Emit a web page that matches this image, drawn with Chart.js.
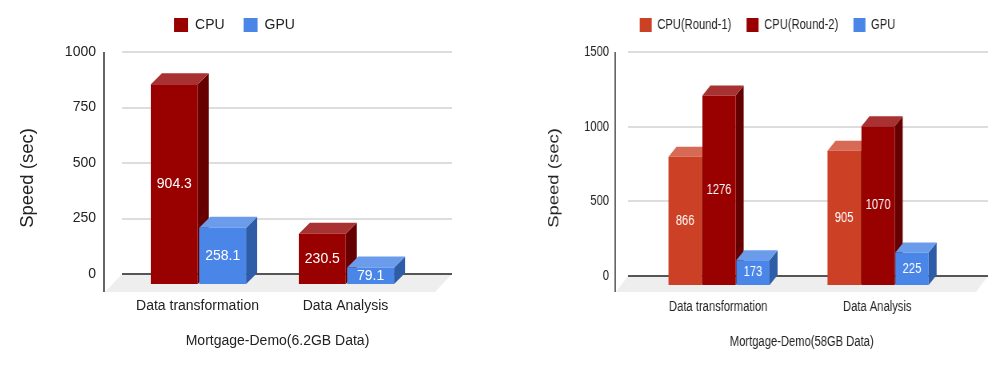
<!DOCTYPE html>
<html>
<head>
<meta charset="utf-8">
<style>
    body { margin: 0; background: #fff; width: 1005px; height: 367px; overflow: hidden; }
    canvas { position: absolute; top: 0; }
    /* the right picture in the source is squeezed sideways */
    #rightChart { transform: scaleX(0.8); transform-origin: 0 0; }
</style>
<script src="https://cdn.jsdelivr.net/npm/chart.js@4/dist/chart.umd.min.js"></script>
</head>
<body>
<canvas id="leftChart" width="469" height="367" style="left:0"></canvas>
<canvas id="rightChart" width="569" height="367" style="left:540px"></canvas>
<script>
const categories = ['Data transformation', 'Data Analysis'];

const leftCpu = [904.3, 230.5];
const leftGpu = [258.1, 79.1];
const leftTitle = 'Mortgage-Demo(6.2GB Data)';

const rightCpuRound1 = [866, 905];
const rightCpuRound2 = [1276, 1070];
const rightGpu = [173, 225];
const rightTitle = 'Mortgage-Demo(58GB Data)';

const yTitle = 'Speed (sec)';

const shades = {
    '#990000': { top: '#a83232', side: '#660000' },
    '#4a86e8': { top: '#6b9cec', side: '#2f5ca6' },
    '#cc4125': { top: '#d66a55', side: '#8f2d1a' }
};

// draws the fake 3d look, floor and axis line around the normal bar elements
const fake3d = {
    id: 'fake3d',
    afterLayout(chart, args, opts) {
        const y = chart.scales.y;
        chart.chartArea.left = opts.gridLeft;
        chart.chartArea.right = opts.gridRight;
        chart.scales.x.left += opts.titleShift;
        chart.scales.x.right += opts.titleShift;
        // pin the plot height, then move only the axis title box
        y.top = opts.plotTop;
        y.bottom = opts.plotBottom;
        y.configure();
        y.top += opts.yTitleShift;
        y.bottom += opts.yTitleShift;
        chart.legend.top = opts.legendTop;
        chart.legend.left += opts.legendShift;
        chart.legend.right += opts.legendShift;
    },
    beforeDraw(chart, args, opts) {
        const ctx = chart.ctx;
        const zero = chart.scales.y.getPixelForValue(0);
        const max = chart.scales.y.getPixelForValue(chart.scales.y.max);
        ctx.save();
        ctx.fillStyle = '#eeeeee';
        ctx.beginPath();
        ctx.moveTo(opts.gridLeft, zero);
        ctx.lineTo(opts.gridRight, zero);
        ctx.lineTo(opts.gridRight - opts.floorX, zero + opts.floorY);
        ctx.lineTo(opts.gridLeft - opts.floorX, zero + opts.floorY);
        ctx.fill();
        ctx.strokeStyle = '#333333';
        ctx.lineWidth = 1.5;
        ctx.beginPath();
        ctx.moveTo(opts.gridLeft - opts.floorX - 1, max);
        ctx.lineTo(opts.gridLeft - opts.floorX - 1, zero + opts.floorY);
        ctx.stroke();
        ctx.restore();
    },
    beforeDatasetsDraw(chart, args, opts) {
        const ctx = chart.ctx;
        const dx = opts.depthX;
        const dy = opts.depthY;
        categories.forEach((name, i) => {
            chart.data.datasets.forEach((ds, d) => {
                const bar = chart.getDatasetMeta(d).data[i];
                const left = bar.x - bar.width / 2 - dx;
                const right = bar.x + bar.width / 2 - dx;
                const top = bar.y + dy;
                const bottom = bar.base + dy;
                const colors = shades[ds.backgroundColor];
                ctx.save();
                ctx.fillStyle = colors.side;
                ctx.beginPath();
                ctx.moveTo(right, top);
                ctx.lineTo(right + dx, top - dy);
                ctx.lineTo(right + dx, bottom - dy);
                ctx.lineTo(right, bottom);
                ctx.fill();
                ctx.fillStyle = colors.top;
                ctx.beginPath();
                ctx.moveTo(left, top);
                ctx.lineTo(left + dx, top - dy);
                ctx.lineTo(right + dx, top - dy);
                ctx.lineTo(right, top);
                ctx.fill();
                ctx.translate(-dx, dy);
                bar.draw(ctx);
                ctx.restore();
                ctx.save();
                ctx.fillStyle = '#ffffff';
                ctx.font = opts.labelFont;
                ctx.textAlign = 'center';
                ctx.textBaseline = 'middle';
                ctx.fillText(ds.data[i], bar.x - dx, (top + bottom) / 2);
                ctx.restore();
            });
        });
        return false;
    }
};

function makeChart(id, datasets, yMax, yStep, xTitle, o) {
    const font = 'Liberation Sans';
    new Chart(document.getElementById(id), {
        type: 'bar',
        data: { labels: categories, datasets: datasets },
        plugins: [fake3d],
        options: {
            responsive: false,
            animation: false,
            datasets: { bar: { categoryPercentage: o.catPct, barPercentage: o.barPct, borderWidth: 0 } },
            layout: { padding: { top: 0, left: 0, right: o.padRight, bottom: 0 } },
            plugins: {
                tooltip: { enabled: false },
                legend: {
                    position: 'top',
                    labels: {
                        boxWidth: o.boxWidth,
                        boxHeight: 14,
                        padding: 19,
                        color: '#222222',
                        font: { family: font, size: 14 }
                    }
                },
                fake3d: {
                    gridLeft: o.gridLeft,
                    gridRight: o.gridRight,
                    plotTop: 52,
                    plotBottom: o.plotBottom,
                    titleShift: o.titleShift,
                    yTitleShift: o.plotBottom === 274 ? 15 : 14,
                    legendTop: -1,
                    legendShift: o.legendShift,
                    floorX: o.floorX,
                    floorY: o.floorY,
                    depthX: o.depthX,
                    depthY: o.depthY,
                    labelFont: '14px "' + font + '"'
                }
            },
            scales: {
                x: {
                    offset: true,
                    grid: { display: false },
                    border: { display: false },
                    afterFit(scale) { scale.height = 367 - o.plotBottom; },
                    ticks: {
                        padding: o.xTickPad,
                        labelOffset: o.labelOffset,
                        maxRotation: 0,
                        color: '#222222',
                        font: { family: font, size: 14 }
                    },
                    title: {
                        display: true,
                        text: xTitle,
                        color: '#222222',
                        font: { family: font, size: 14 },
                        padding: { top: 0, bottom: o.titlePad }
                    }
                },
                y: {
                    min: 0,
                    max: yMax,
                    afterFit(scale) { scale.width = o.areaLeft; },
                    grid: {
                        drawTicks: false,
                        lineWidth: 2,
                        color: (c) => c.tick.value === 0 ? '#555555' : '#dddddd'
                    },
                    border: { display: false },
                    ticks: {
                        stepSize: yStep,
                        padding: o.yTickPad,
                        color: '#222222',
                        font: { family: font, size: 14 },
                        callback: (v) => String(v)
                    },
                    title: {
                        display: true,
                        text: yTitle,
                        color: '#222222',
                        font: { family: font, size: 18.5 },
                        padding: { top: o.yTitlePad, bottom: 0 }
                    }
                }
            }
        }
    });
}

makeChart('leftChart', [
    { label: 'CPU', data: leftCpu, backgroundColor: '#990000' },
    { label: 'GPU', data: leftGpu, backgroundColor: '#4a86e8' }
], 1000, 250, leftTitle, {
    catPct: 0.653, barPct: 0.97, padRight: 37.5,
    boxWidth: 14, legendShift: 18.75,
    gridLeft: 122, gridRight: 452, plotBottom: 274, titleShift: -6,
    floorX: 17, floorY: 18, depthX: 11, depthY: 11,
    xTickPad: 16, titlePad: 17,
    areaLeft: 135.5, labelOffset: -12, yTickPad: 39.5, yTitlePad: 17
});

makeChart('rightChart', [
    { label: 'CPU(Round-1)', data: rightCpuRound1, backgroundColor: '#cc4125' },
    { label: 'CPU(Round-2)', data: rightCpuRound2, backgroundColor: '#990000' },
    { label: 'GPU', data: rightGpu, backgroundColor: '#4a86e8' }
], 1500, 500, rightTitle, {
    catPct: 0.64, barPct: 0.98, padRight: 37,
    boxWidth: 15, legendShift: 18.4,
    gridLeft: 110, gridRight: 560, plotBottom: 276, titleShift: -6,
    floorX: 15, floorY: 16, depthX: 10, depthY: 10,
    xTickPad: 15, titlePad: 16,
    areaLeft: 134.4, labelOffset: -11, yTickPad: 48, yTitlePad: 6.5
});
</script>
</body>
</html>
